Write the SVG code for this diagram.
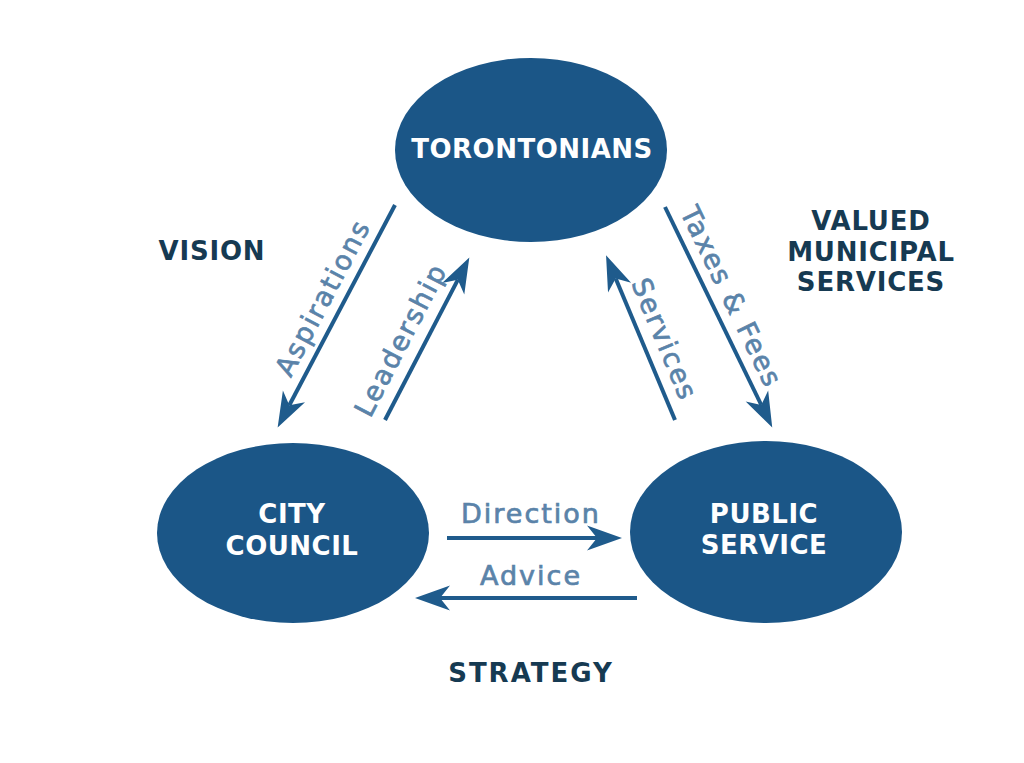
<svg xmlns="http://www.w3.org/2000/svg" width="1024" height="763" viewBox="0 0 1024 763">
<style>
.node{fill:#1b5687}
.nt{font-family:"DejaVu Sans","Liberation Sans",sans-serif;font-weight:bold;font-size:26px;fill:#ffffff;text-anchor:middle;letter-spacing:0.5px}
.hd{font-family:"DejaVu Sans","Liberation Sans",sans-serif;font-weight:bold;font-size:26px;fill:#163a52;text-anchor:middle;letter-spacing:0.8px}
.lb{font-family:"DejaVu Sans","Liberation Sans",sans-serif;font-size:27px;fill:#5a83a9;stroke:#5a83a9;stroke-width:0.7px;text-anchor:middle;letter-spacing:2px}
.ar{stroke:#1f5b8c;stroke-width:4;fill:none;marker-end:url(#ah)}
</style>
<defs>
<marker id="ah" markerUnits="userSpaceOnUse" markerWidth="40" markerHeight="30" viewBox="-10 -12 32 24" refX="0" refY="0" orient="auto">
<path d="M20,0 L-8,-10 L0,0 L-8,10 Z" fill="#1f5b8c"/>
</marker>
</defs>
<rect width="1024" height="763" fill="#ffffff"/>
<g id="connectors">
<line class="ar" x1="395" y1="205" x2="289.3" y2="405.3"/>
<line class="ar" x1="385" y1="420" x2="457.8" y2="279.8"/>
<line class="ar" x1="675" y1="420" x2="615.7" y2="278.4"/>
<line class="ar" x1="665" y1="207" x2="761.3" y2="405"/>
<line class="ar" x1="447" y1="538" x2="597" y2="538"/>
<line class="ar" x1="637" y1="598" x2="440" y2="598"/>
<text class="lb" transform="translate(331,302) rotate(-62.2)">Aspirations</text>
<text class="lb" transform="translate(409,344) rotate(-62.6)">Leadership</text>
<text class="lb" transform="translate(656,343) rotate(67.3)">Services</text>
<text class="lb" transform="translate(723,301) rotate(64.1)">Taxes &amp; Fees</text>
<text class="lb" x="531" y="523">Direction</text>
<text class="lb" x="531" y="585">Advice</text>
</g>
<g id="torontonians">
<ellipse class="node" cx="531" cy="150" rx="136" ry="92"/>
<text class="nt" x="532" y="158">TORONTONIANS</text>
</g>
<g id="city-council">
<ellipse class="node" cx="293" cy="533" rx="136" ry="90"/>
<text class="nt" x="292" y="523">CITY</text>
<text class="nt" x="292" y="555">COUNCIL</text>
</g>
<g id="public-service">
<ellipse class="node" cx="766" cy="532" rx="136" ry="91"/>
<text class="nt" x="764" y="523">PUBLIC</text>
<text class="nt" x="764" y="554">SERVICE</text>
</g>
<g id="vision">
<text class="hd" x="212" y="260">VISION</text>
</g>
<g id="valued-municipal-services">
<text class="hd" x="871" y="230">VALUED</text>
<text class="hd" x="871" y="261">MUNICIPAL</text>
<text class="hd" x="871" y="291">SERVICES</text>
</g>
<g id="strategy">
<text class="hd" x="531" y="682" style="letter-spacing:2px">STRATEGY</text>
</g>
</svg>
